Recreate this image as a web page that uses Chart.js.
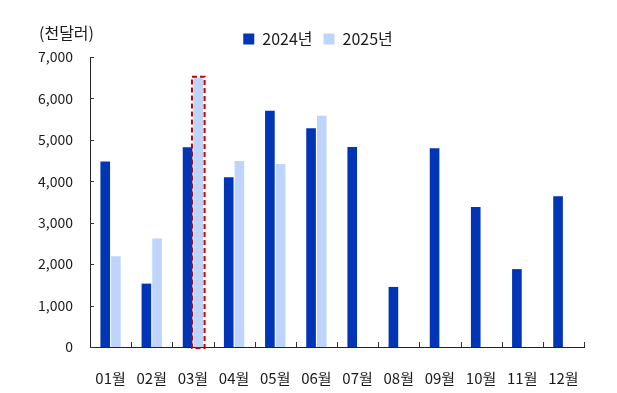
<!DOCTYPE html>
<html>
<head>
<meta charset="utf-8">
<script src="https://cdn.jsdelivr.net/npm/chart.js@4"></script>
<style>
  html, body { margin: 0; padding: 0; background: #fff; }
  #wrap { width: 617px; height: 393px; }
</style>
</head>
<body>
<div id="wrap"><canvas id="exportChart"></canvas></div>
<script>
// 월별 수출액 (천달러)
var months = ['01월', '02월', '03월', '04월', '05월', '06월', '07월', '08월', '09월', '10월', '11월', '12월'];
var export2024 = [4480, 1530, 4820, 4100, 5700, 5280, 4830, 1450, 4800, 3380, 1880, 3640];
var export2025 = [2190, 2620, 6500, 4490, 4420, 5580, null, null, null, null, null, null];
var yTicks = [0, 1000, 2000, 3000, 4000, 5000, 6000, 7000];
var highlightIndex = 2;

var FONT = "'Noto Sans CJK KR', 'Noto Sans', sans-serif";
var TEXT = '#1a1a1a';

// 안쪽으로 향하는 눈금 + 단위 + 강조 박스
var extras = {
    id: 'extras',
    afterLayout: function(chart) {
        // 범례를 플롯 영역 쪽으로 조금 이동
        if (chart.legend) {
            chart.legend.left += 26;
            chart.legend.right += 26;
        }
    },
    afterDraw: function(chart) {
        var ctx = chart.ctx;
        var xs = chart.scales.x, ys = chart.scales.y;
        ctx.save();
        ctx.strokeStyle = '#333';
        ctx.lineWidth = 1;
        // y axis ticks (inside)
        ys.ticks.forEach(function(t) {
            var y = Math.round(ys.getPixelForValue(t.value)) + 0.5;
            ctx.beginPath();
            ctx.moveTo(xs.left, y);
            ctx.lineTo(xs.left + 4, y);
            ctx.stroke();
        });
        // x axis ticks between categories (inside)
        var w = (xs.right - xs.left) / months.length;
        for (var i = 1; i <= months.length; i++) {
            var x = Math.round(xs.left + i * w) + 0.5;
            ctx.beginPath();
            ctx.moveTo(x, ys.bottom);
            ctx.lineTo(x, ys.bottom - 5);
            ctx.stroke();
        }
        // 단위
        ctx.fillStyle = TEXT;
        ctx.font = '16px ' + FONT;
        ctx.textBaseline = 'middle';
        ctx.textAlign = 'left';
        ctx.fillText('(천달러)', 39, 33);
        // 강조 박스
        var bar = chart.getDatasetMeta(1).data[highlightIndex];
        if (bar) {
            var half = bar.width / 2 + 1.5;
            ctx.strokeStyle = '#c80000';
            ctx.lineWidth = 2;
            ctx.setLineDash([5, 3]);
            ctx.strokeRect(bar.x - half, bar.y - 1, half * 2, bar.base - bar.y + 2);
        }
        ctx.restore();
    }
};

var ctx = document.getElementById('exportChart').getContext('2d');
var exportChart = new Chart(ctx, {
    type: 'bar',
    data: {
        labels: months,
        datasets: [{
            label: '2024년',
            data: export2024,
            backgroundColor: '#0035b5',
            categoryPercentage: 0.52,
            barPercentage: 0.9
        }, {
            label: '2025년',
            data: export2025,
            backgroundColor: '#bfd4fb',
            categoryPercentage: 0.52,
            barPercentage: 0.9
        }]
    },
    options: {
        responsive: true,
        maintainAspectRatio: false,
        animation: false,
        layout: { padding: { top: 20, right: 33, left: 0, bottom: 0 } },
        plugins: {
            legend: {
                position: 'top',
                labels: {
                    font: { family: FONT, size: 16 },
                    color: TEXT,
                    boxWidth: 11,
                    boxHeight: 11,
                    padding: 11
                }
            },
            tooltip: { enabled: false }
        },
        scales: {
            x: {
                grid: { display: false, drawTicks: false },
                border: { display: true, color: '#222', width: 1 },
                ticks: { font: { family: FONT, size: 15 }, color: TEXT, padding: 22 },
                afterFit: function(scale) { scale.height = 46; }
            },
            y: {
                min: 0,
                max: 7000,
                afterBuildTicks: function(scale) {
                    scale.ticks = yTicks.map(function(v) { return { value: v }; });
                },
                grid: { display: false, drawTicks: false },
                border: { display: true, color: '#222', width: 1 },
                ticks: {
                    font: { family: FONT, size: 14 },
                    color: TEXT,
                    padding: 17,
                    callback: function(v) { return v.toLocaleString('en-US'); }
                },
                afterFit: function(scale) { scale.width = 90; }
            }
        }
    },
    plugins: [extras]
});
</script>
</body>
</html>
